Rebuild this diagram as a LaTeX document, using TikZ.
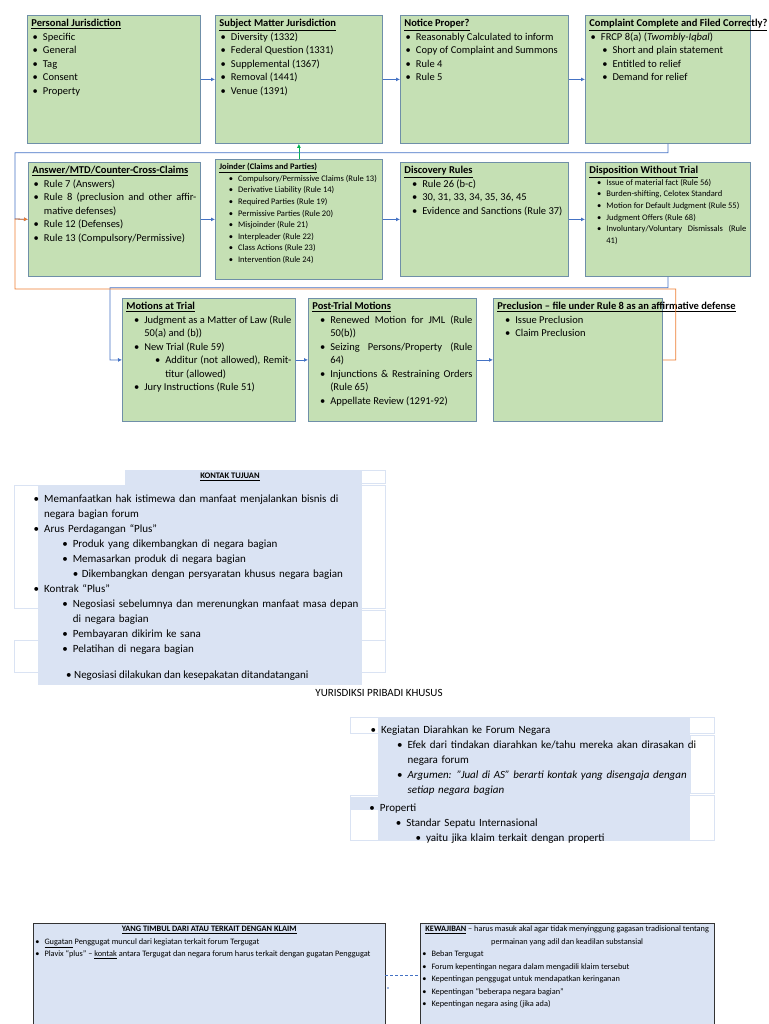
\documentclass[tikz,border=0pt]{standalone}
\usepackage{fontspec}
\setmainfont{Carlito}
\usepackage{enumitem}
\setlist[itemize]{nosep,leftmargin=1.1em,label=\textbullet}
\usetikzlibrary{positioning,arrows.meta}
\definecolor{boxgreen}{HTML}{C5E0B4}
\definecolor{boxline}{HTML}{6F8FA8}
\definecolor{paleblue}{HTML}{DAE3F3}
\definecolor{flowblue}{HTML}{4472C4}
\definecolor{floworange}{HTML}{ED7D31}
\definecolor{flowgreen}{HTML}{00B050}
\newcommand{\boxtext}[3]{\begin{minipage}[t][#2][t]{#1}#3\end{minipage}}
\newcommand{\hd}[1]{\textbf{\underline{#1}}}

\begin{document}
\begin{tikzpicture}[x=1pt,y=-1pt]
	\tikzstyle{stage}=[draw=boxline, fill=boxgreen, thick, anchor=north west, inner sep=4pt, font=\fontsize{10.5}{13.5}\selectfont]
	\tikzstyle{stagesmall}=[stage, font=\fontsize{8.5}{11.6}\selectfont]
	\tikzstyle{flow}=[-{Latex[length=4pt,width=4pt]}, flowblue, thick]
	\tikzstyle{back}=[-{Latex[length=4pt,width=4pt]}, floworange, thick]
	\tikzstyle{pane}=[fill=paleblue, draw=none]
	\tikzstyle{ghost}=[draw=paleblue, thick]

	\useasboundingbox (0,0) rectangle (768,1024);

	% first row
	\node (pj) [stage] at (27,15) {\boxtext{165pt}{120pt}{\hd{Personal Jurisdiction}
		\begin{itemize}\item Specific \item General \item Tag \item Consent \item Property\end{itemize}}};
	\node (smj) [stage] at (215,15) {\boxtext{159pt}{120pt}{\hd{Subject Matter Jurisdiction}
		\begin{itemize}\item Diversity (1332) \item Federal Question (1331) \item Supplemental (1367) \item Removal (1441) \item Venue (1391)\end{itemize}}};
	\node (np) [stage] at (400,15) {\boxtext{160pt}{120pt}{\hd{Notice Proper?}
		\begin{itemize}\item Reasonably Calculated to inform \item Copy of Complaint and Summons \item Rule 4 \item Rule 5\end{itemize}}};
	\node (cc) [stage] at (585,15) {\boxtext{157pt}{120pt}{\hd{Complaint Complete and Filed Correctly?}
		\begin{itemize}\item FRCP 8(a) (\textit{Twombly-Iqbal})
		\begin{itemize}\item Short and plain statement \item Entitled to relief \item Demand for relief\end{itemize}\end{itemize}}};

	% second row
	\node (ans) [stage] at (28,162) {\boxtext{164pt}{106pt}{\hd{Answer/MTD/Counter-Cross-Claims}
		\begin{itemize}\item Rule 7 (Answers) \item Rule 8 (preclusion and other affirmative defenses) \item Rule 12 (Defenses) \item Rule 13 (Compulsory/Permissive)\end{itemize}}};
	\node (joi) [stagesmall] at (215,159) {\boxtext{159pt}{112pt}{\hd{Joinder (Claims and Parties)}
		\begin{itemize}[leftmargin=2.2em]\item Compulsory/Permissive Claims (Rule 13) \item Derivative Liability (Rule 14) \item Required Parties (Rule 19) \item Permissive Parties (Rule 20) \item Misjoinder (Rule 21) \item Interpleader (Rule 22) \item Class Actions (Rule 23) \item Intervention (Rule 24)\end{itemize}}};
	\node (dis) [stage] at (400,162) {\boxtext{160pt}{106pt}{\hd{Discovery Rules}
		\begin{itemize}[leftmargin=1.7em]\item Rule 26 (b-c) \item 30, 31, 33, 34, 35, 36, 45 \item Evidence and Sanctions (Rule 37)\end{itemize}}};
	\node (dwt) [stagesmall] at (585,162) {\boxtext{157pt}{106pt}{{\fontsize{10.5}{13.5}\selectfont\hd{Disposition Without Trial}}
		\begin{itemize}[leftmargin=2em]\item Issue of material fact (Rule 56) \item Burden-shifting, Celotex Standard \item Motion for Default Judgment (Rule 55) \item Judgment Offers (Rule 68) \item Involuntary/Voluntary Dismissals (Rule 41)\end{itemize}}};

	% third row
	\node (mat) [stage] at (122,298) {\boxtext{165pt}{115pt}{\hd{Motions at Trial}
		\begin{itemize}[leftmargin=1.7em]\item Judgment as a Matter of Law (Rule 50(a) and (b)) \item New Trial (Rule 59)
		\begin{itemize}[leftmargin=2em]\item Additur (not allowed), Remittitur (allowed)\end{itemize}\item Jury Instructions (Rule 51)\end{itemize}}};
	\node (ptm) [stage] at (308,298) {\boxtext{160pt}{115pt}{\hd{Post-Trial Motions}
		\begin{itemize}[leftmargin=1.7em]\item Renewed Motion for JML (Rule 50(b)) \item Seizing Persons/Property (Rule 64) \item Injunctions \& Restraining Orders (Rule 65) \item Appellate Review (1291-92)\end{itemize}}};
	\node (pre) [stage] at (493,298) {\boxtext{161pt}{115pt}{\hd{Preclusion -- file under Rule 8 as an affirmative defense}
		\begin{itemize}[leftmargin=1.7em]\item Issue Preclusion \item Claim Preclusion\end{itemize}}};

	\draw[flow] (pj) -- (smj);
	\draw[flow] (smj) -- (np);
	\draw[flow] (np) -- (cc);
	\draw[flow] (ans) -- (joi);
	\draw[flow] (joi) -- (dis);
	\draw[flow] (dis) -- (dwt);
	\draw[flow] (mat) -- (ptm);
	\draw[flow] (ptm) -- (pre);
	\draw[-{Latex[length=4pt,width=4pt]}, flowgreen, thick] (joi.north) -- (smj.south);
	\draw[flow] (cc.south) -- ++(0,9) -| (15,219) -- (ans.west);
	\draw[flow] (dwt.south) -- ++(0,11) -| (110,360) -- (mat.west);
	\draw[back] (pre.east) -- ++(13,0) |- (15,289) -- (15,219) -- (ans.west);

	% kontak tujuan
	\draw[ghost] (14,485) rectangle (385,608);
	\draw[ghost] (338,470) rectangle (385,483);
	\draw[ghost] (14,640) rectangle (385,672);
	\draw[ghost] (338,610) rectangle (385,640);
	\fill[pane] (38,485) rectangle (362,685);
	\fill[pane] (125,470) rectangle (362,485);
	\node (kt) [font=\fontsize{8.5}{10}\selectfont] at (230,477) {\hd{KONTAK TUJUAN}};
	\node (ktlist) [anchor=north west, inner sep=0pt, text width=330pt, font=\fontsize{11}{15}\selectfont] at (33,487) {%
		\begin{itemize}[leftmargin=1em]\item Memanfaatkan hak istimewa dan manfaat menjalankan bisnis di negara bagian forum
		\item Arus Perdagangan ``Plus''
		\begin{itemize}[leftmargin=2.6em]\item Produk yang dikembangkan di negara bagian \item Memasarkan produk di negara bagian \end{itemize}\end{itemize}
		\hspace*{3.6em}\textbullet\ Dikembangkan dengan persyaratan khusus negara bagian
		\begin{itemize}[leftmargin=1em]\item Kontrak ``Plus''
		\begin{itemize}[leftmargin=2.6em]\item Negosiasi sebelumnya dan merenungkan manfaat masa depan di negara bagian \item Pembayaran dikirim ke sana \item Pelatihan di negara bagian \end{itemize}\end{itemize}};
	\begin{scope}
		\clip (0,670) rectangle (768,684);
		\node (ktcut) [anchor=north west, inner sep=0pt, font=\fontsize{11}{15}\selectfont] at (66,671) {\textbullet\ Negosiasi dilakukan dan kesepakatan ditandatangani};
	\end{scope}
	\node (ypk) [font=\fontsize{11}{13}\selectfont] at (379,693) {YURISDIKSI PRIBADI KHUSUS};

	% kegiatan diarahkan
	\draw[ghost] (350,717) rectangle (714,733);
	\draw[ghost] (350,795) rectangle (714,840);
	\draw[ghost] (690,735) rectangle (714,793);
	\fill[pane] (378,717) rectangle (690,840);
	\fill[pane] (350,797) rectangle (690,810);
	\node (kd) [anchor=north west, inner sep=0pt, text width=340pt, font=\fontsize{11}{15}\selectfont] at (370,718) {%
		\begin{itemize}[leftmargin=1em]\item Kegiatan Diarahkan ke Forum Negara
		\begin{itemize}[leftmargin=2.4em]\item Efek dari tindakan diarahkan ke/tahu mereka akan dirasakan di negara forum \item \textit{Argumen: "Jual di AS" berarti kontak yang disengaja dengan setiap negara bagian}\end{itemize}\end{itemize}};
	\node (prop) [anchor=north west, inner sep=0pt, text width=340pt, font=\fontsize{11}{15}\selectfont] at (372,796) {%
		\begin{itemize}[leftmargin=0.7em]\item Properti
		\begin{itemize}[leftmargin=2.4em]\item Standar Sepatu Internasional
		\begin{itemize}[leftmargin=1.8em]\item yaitu jika klaim terkait dengan properti\end{itemize}\end{itemize}\end{itemize}};

	% bottom boxes
	\node (ytd) [draw=black!80, fill=paleblue, anchor=north west, inner sep=3pt, font=\fontsize{8.3}{12.5}\selectfont] at (33,923) {\boxtext{346pt}{100pt}{\centering\hd{YANG TIMBUL DARI ATAU TERKAIT DENGAN KLAIM}\par\raggedright
		\begin{itemize}[leftmargin=1em]\item \underline{Gugatan} Penggugat muncul dari kegiatan terkait forum Tergugat \item Plavix ``plus'' -- \underline{kontak} antara Tergugat dan negara forum harus terkait dengan gugatan Penggugat\end{itemize}}};
	\node (kew) [draw=black!80, fill=paleblue, anchor=north west, inner sep=3pt, font=\fontsize{8.3}{12.5}\selectfont] at (420,923) {\boxtext{288pt}{100pt}{\centering\hd{KEWAJIBAN} -- harus masuk akal agar tidak menyinggung gagasan tradisional tentang permainan yang adil dan keadilan substansial\par\raggedright
		\begin{itemize}[leftmargin=1em]\item Beban Tergugat \item Forum kepentingan negara dalam mengadili klaim tersebut \item Kepentingan penggugat untuk mendapatkan keringanan \item Kepentingan ``beberapa negara bagian'' \item Kepentingan negara asing (jika ada)\end{itemize}}};
	\draw[flowblue, densely dashed] (ytd.east |- 0,975) -- (kew.west |- 0,975);
	\fill[flowblue] (388,988) circle (0.9);
\end{tikzpicture}
\end{document}
